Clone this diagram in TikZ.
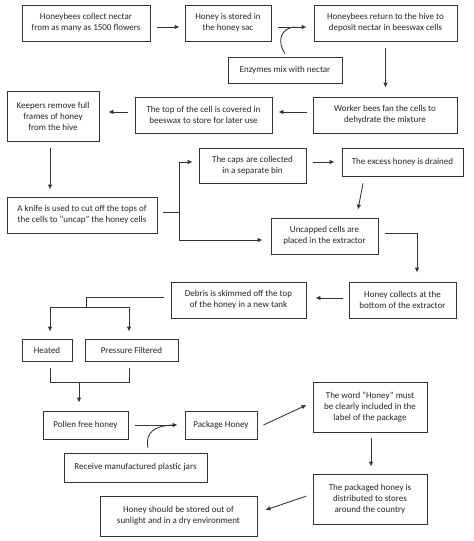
\documentclass[tikz,border=0pt]{standalone}
\usepackage{fontspec}
\setmainfont{Carlito}
\usetikzlibrary{calc,arrows.meta}
\definecolor{ln}{HTML}{333333}
\definecolor{tx}{HTML}{262626}
\begin{document}
\begin{tikzpicture}[x=1pt,y=-1pt,
  box/.style={draw=ln,line width=0.85pt,inner sep=0pt,align=center,text=tx,
    font=\fontsize{9}{11}\selectfont},
  arr/.style={draw=ln,line width=0.85pt,-{Latex[length=5pt,width=4.5pt]}},
  ln/.style={draw=ln,line width=0.85pt}]
\useasboundingbox (0,0) rectangle (474,541);
\fill[white] (0,0) rectangle (474,541);
% nodes
\node[box,minimum width=128,minimum height=36] (b1) at (86,23) {Honeybees collect nectar\\from as many as 1500 flowers};
\node[box,minimum width=86,minimum height=36] (b2) at (228,23) {Honey is stored in\\the honey sac};
\node[box,minimum width=143,minimum height=36] (b3) at (385.5,23) {Honeybees return to the hive to\\deposit nectar in beeswax cells};
\node[box,minimum width=114,minimum height=26] (enz) at (285,70) {Enzymes mix with nectar};
\node[box,minimum width=144,minimum height=36] (worker) at (385,115) {Worker bees fan the cells to\\dehydrate the mixture};
\node[box,minimum width=137,minimum height=36] (top) at (203.5,115) {The top of the cell is covered in\\beeswax to store for later use};
\node[box,minimum width=92,minimum height=50] (keep) at (53,116) {Keepers remove full\\frames of honey\\from the hive};
\node[box,minimum width=150,minimum height=36] (knife) at (82,215) {A knife is used to cut off the tops of\\the cells to “uncap” the honey cells};
\node[box,minimum width=107,minimum height=35] (caps) at (252.5,165.5) {The caps are collected\\in a separate bin};
\node[box,minimum width=121,minimum height=28] (excess) at (402.5,162) {The excess honey is drained};
\node[box,minimum width=107,minimum height=36] (uncap) at (324.5,236) {Uncapped cells are\\placed in the extractor};
\node[box,minimum width=107,minimum height=36] (collect) at (402.5,300) {Honey collects at the\\bottom of the extractor};
\node[box,minimum width=135,minimum height=36] (debris) at (238.5,300) {Debris is skimmed off the top\\of the honey in a new tank};
\node[box,minimum width=50,minimum height=22] (heated) at (47,350) {Heated};
\node[box,minimum width=93,minimum height=22] (pressure) at (131.5,350) {Pressure Filtered};
\node[box,minimum width=85,minimum height=28] (pollen) at (85.5,425) {Pollen free honey};
\node[box,minimum width=72,minimum height=28] (package) at (221,425) {Package Honey};
\node[box,minimum width=143,minimum height=29] (receive) at (135.5,467.5) {Receive manufactured plastic jars};
\node[box,minimum width=157,minimum height=40] (stored) at (178.5,516) {Honey should be stored out of\\sunlight and in a dry environment};
\node[box,minimum width=114,minimum height=50] (word) at (370,407) {The word “Honey” must\\be clearly included in the\\label of the package};
\node[box,minimum width=114,minimum height=50] (packaged) at (370,499) {The packaged honey is\\distributed to stores\\around the country};
% junction coordinates
\coordinate (j1) at (179,162);
\coordinate (j2) at (179,240);
\coordinate (s1) at (86,307);
\coordinate (m) at (79,382);
\coordinate (e1) at (295,27);
\coordinate (e2) at (172,425);
% connectors
\draw[arr] ($(b1.east)+(7,4)$) -- ($(b2.west)+(-5,4)$);
\draw[arr] ($(b2.east)+(7,4)$) -- ($(b3.west)+(-7,4)$);
\draw[ln] ($(enz.north)+(0,-3)$) .. controls (277,42) and (280,28) .. (e1);
\draw[arr] ($(b3.south)+(0,7)$) -- ($(worker.north)+(0.5,-9)$);
\draw[arr] ($(worker.west)+(-6,-3)$) -- ($(top.east)+(6,-3)$);
\draw[arr] ($(top.west)+(-7,-3)$) -- ($(keep.east)+(9,-4)$);
\draw[arr] ($(keep.south)+(-3,7)$) -- ($(keep.south|-knife.north)+(-3,-7)$);
\draw[ln] ($(knife.east)+(6,-3)$) -- ($(knife.east)+(22,-3)$);
\draw[ln] (j1) -- (j2);
\draw[arr] (j1) -- ($(caps.west)+(-6,-3.5)$);
\draw[arr] (j2) -- ($(uncap.west)+(-8,4)$);
\draw[arr] ($(caps.east)+(7,-3.5)$) -- ($(excess.west)+(-7,0)$);
\draw[arr] ($(excess.south)+(-39.5,7)$) -- ($(uncap.north)+(33.5,-8)$);
\draw[arr] ($(uncap.east)+(7,-3)$) -| ($(collect.north)+(14.5,-9)$);
\draw[arr] ($(collect.west)+(-6,-2)$) -- ($(debris.east)+(9,-2)$);
\draw[ln] ($(debris.west)+(-7,-3)$) -| (s1);
\draw[arr] (s1) -| ($(heated.north)+(3,-7)$);
\draw[arr] (s1) -| ($(pressure.north)+(-2.5,-7)$);
\draw[ln] ($(heated.south)+(3,7)$) |- ($(pressure.south)+(-2.5,21)$) -- ($(pressure.south)+(-2.5,7)$);
\draw[arr] (m) -- ($(pollen.north)+(-6.5,-8)$);
\draw[arr] ($(pollen.east)+(7,0)$) -- ($(package.west)+(-7,0)$);
\draw[ln] ($(receive.north)+(12.5,-5)$) .. controls (145,432) and (155,426) .. (e2);
\draw[arr] ($(package.east)+(6,0)$) -- ($(word.west)+(-6,-2)$);
\draw[arr] ($(word.south)+(1,6)$) -- ($(packaged.north)+(1,-7)$);
\draw[arr] ($(packaged.west)+(-6,-3)$) -- ($(stored.east)+(8,-6)$);
\end{tikzpicture}
\end{document}
